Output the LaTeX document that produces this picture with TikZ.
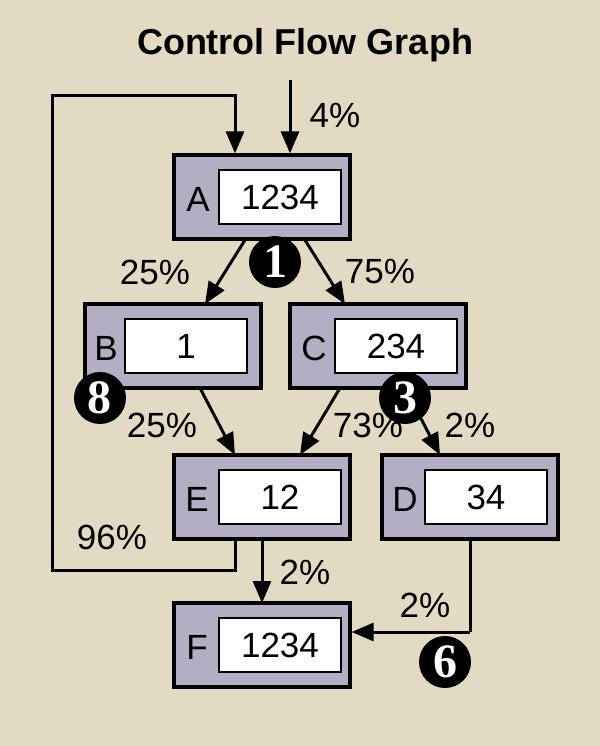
\documentclass[tikz,border=0pt]{standalone}
\usepackage{fontspec}
\setmainfont{Liberation Sans}
\newfontfamily\numfont{Liberation Serif}
\usetikzlibrary{arrows.meta}
\definecolor{bg}{HTML}{E2DAC2}
\definecolor{boxg}{HTML}{B3AEC3}
\tikzset{
 outer/.style={draw=black,line width=1.6pt,fill=boxg,minimum width=88pt,minimum height=42pt,inner sep=0pt},
 inner/.style={draw=black,line width=1.4pt,fill=white,minimum width=61pt,minimum height=27pt,inner sep=0pt,font=\fontsize{17.5}{17.5}\selectfont},
 lbl/.style={font=\fontsize{17.5}{17.5}\selectfont},
 pct/.style={font=\fontsize{17.5}{17.5}\selectfont},
 badge/.style={circle,fill=black,minimum size=26pt,inner sep=0pt,text=white,font=\numfont\bfseries\fontsize{24}{24}\selectfont},
 arr/.style={line width=1.5pt,-{Triangle[length=11pt,width=9pt]}},
 ln/.style={line width=1.5pt}
}
\begin{document}
\begin{tikzpicture}[x=0.5pt,y=-0.5pt]
\fill[bg] (0,0) rectangle (600,746);
\useasboundingbox (0,0) rectangle (600,746);
\node[font=\bfseries\fontsize{18}{18}\selectfont] (title) at (305,45) {Control Flow Graph};
% boxes
\node[outer] (A) at (262,197) {}; \node[inner] (Ai) at (280,197) {1234}; \node[lbl] (Al) at (198,199) {A};
\node[outer] (B) at (173,346) {}; \node[inner] (Bi) at (186,346) {1}; \node[lbl] (Bl) at (106,348) {B};
\node[outer] (C) at (378,346) {}; \node[inner] (Ci) at (396,346) {234}; \node[lbl] (Cl) at (314,348) {C};
\node[outer] (E) at (262,497) {}; \node[inner] (Ei) at (280,497) {12}; \node[lbl] (El) at (197,499) {E};
\node[outer] (D) at (470,497) {}; \node[inner] (Di) at (486,497) {34}; \node[lbl] (Dl) at (405,499) {D};
\node[outer] (F) at (262,645) {}; \node[inner] (Fi) at (280,645) {1234}; \node[lbl] (Fl) at (197,647) {F};
\fill (559,541) -- (552,541) -- (559,533) -- cycle;
% coordinates
\coordinate (top) at (290,80);
\coordinate (L1) at (235,540); \coordinate (L2) at (235,570); \coordinate (L3) at (52,570);
\coordinate (L4) at (52,95); \coordinate (L5) at (235,95);
\coordinate (D1) at (470,632);
% arrows
\draw[arr] (top) -- (top |- A.north);
\draw[arr] (L1) -- (L2) -- (L3) -- (L4) -- (L5) -- (L5 |- A.north);
\draw[arr] (245,240) -- (205,304);
\draw[arr] (305,240) -- (345,304);
\draw[arr] (200,388) -- (235,455);
\draw[arr] (340,388) -- (300,455);
\draw[arr] (405,388) -- (440,455);
\draw[arr] (262,540) -- (262,603);
\draw[ln] (D.south -| D1) -- (D1);
\draw[arr] (D1) -- (D1 -| F.east);
% labels
\node[pct] (p1) at (335,115) {4\%};
\node[pct] (p2) at (155,272) {25\%};
\node[pct] (p3) at (380,272) {75\%};
\node[pct] (p4) at (162,425) {25\%};
\node[pct] (p5) at (368,425) {73\%};
\node[pct] (p6) at (470,425) {2\%};
\node[pct] (p7) at (112,537) {96\%};
\node[pct] (p8) at (305,572) {2\%};
\node[pct] (p9) at (425,605) {2\%};
% badges
\node[badge] (n1) at (275,262) {1};
\node[badge] (n8) at (100,398) {8};
\node[badge] (n3) at (405,398) {3};
\node[badge] (n6) at (445,662) {6};
\end{tikzpicture}
\end{document}
